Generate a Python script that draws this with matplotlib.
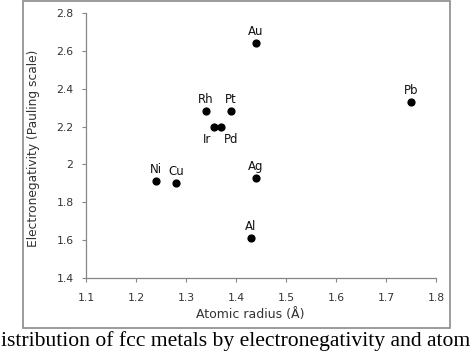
import matplotlib.pyplot as plt
from matplotlib.patches import Rectangle

# fcc metals: atomic radius (A) vs electronegativity (Pauling)
metals = ["Au", "Pb", "Rh", "Pt", "Ir", "Pd", "Ni", "Cu", "Ag", "Al"]
radius = [1.44, 1.75, 1.34, 1.39, 1.357, 1.37, 1.24, 1.28, 1.44, 1.43]
eneg = [2.64, 2.33, 2.28, 2.28, 2.20, 2.20, 1.91, 1.90, 1.93, 1.61]
# label placement (dx, dy in pixels, vertical alignment)
lab_pos = {"Ir": (-7, -6, "top"), "Pd": (10, -6, "top")}

xticks = [1.1, 1.2, 1.3, 1.4, 1.5, 1.6, 1.7, 1.8]
yticks = [1.4, 1.6, 1.8, 2.0, 2.2, 2.4, 2.6, 2.8]
ytick_labels = ["1.4", "1.6", "1.8", "2", "2.2", "2.4", "2.6", "2.8"]

# caption as seen (cropped in the source image)
caption = "istribution of fcc metals by electronegativity and atom"

plt.rcParams['font.family'] = ['DejaVu Sans']
grey = "#868686"
txt = "#333333"

fig = plt.figure(figsize=(4.74, 3.53), dpi=100)
ax = fig.add_axes([86/474, 1-278/353, 350/474, 265/353])

ax.scatter(radius, eneg, s=24, color="black", zorder=3)
for m, x, y in zip(metals, radius, eneg):
    dx, dy, va = lab_pos.get(m, (0, 5, "bottom"))
    ax.annotate(m, (x, y), xytext=(dx, dy), textcoords="offset pixels",
                ha="center", va=va, fontsize=8.5, color="#111111")

ax.set_xlim(1.1, 1.8)
ax.set_ylim(1.4, 2.8)
ax.set_xticks(xticks)
ax.set_yticks(yticks)
ax.set_yticklabels(ytick_labels)
for s in ["top", "right"]:
    ax.spines[s].set_visible(False)
for s in ["left", "bottom"]:
    ax.spines[s].set_color(grey)
    ax.spines[s].set_linewidth(0.9)
ax.tick_params(colors=grey, labelcolor=txt, labelsize=7.8, length=3, direction="out")
ax.tick_params(axis="x", pad=8)
ax.tick_params(axis="y", pad=6)
ax.set_xlabel("Atomic radius (Å)", fontsize=9, color=txt)
ax.xaxis.set_label_coords((250-86)/350, -0.115)
ax.set_ylabel("Electronegativity (Pauling scale)", fontsize=8.8, color=txt)
ax.yaxis.set_label_coords(-(86-40)/350, 0.49)

# grey frame around the chart
fig.patches.append(Rectangle((23/474, 1-328/353), 427/474, 327/353,
                             transform=fig.transFigure, fill=False,
                             edgecolor="#8a8a8a", linewidth=1.2))

# caption, sized to fill the width
cap = fig.text(1/474, 1-346/353, caption, family="Liberation Serif",
               fontsize=14, color="black", va="baseline")
r = fig.canvas.get_renderer()
w = cap.get_window_extent(r).width
cap.set_fontsize(14*471/w)

fig.savefig("out.png", dpi=100)
